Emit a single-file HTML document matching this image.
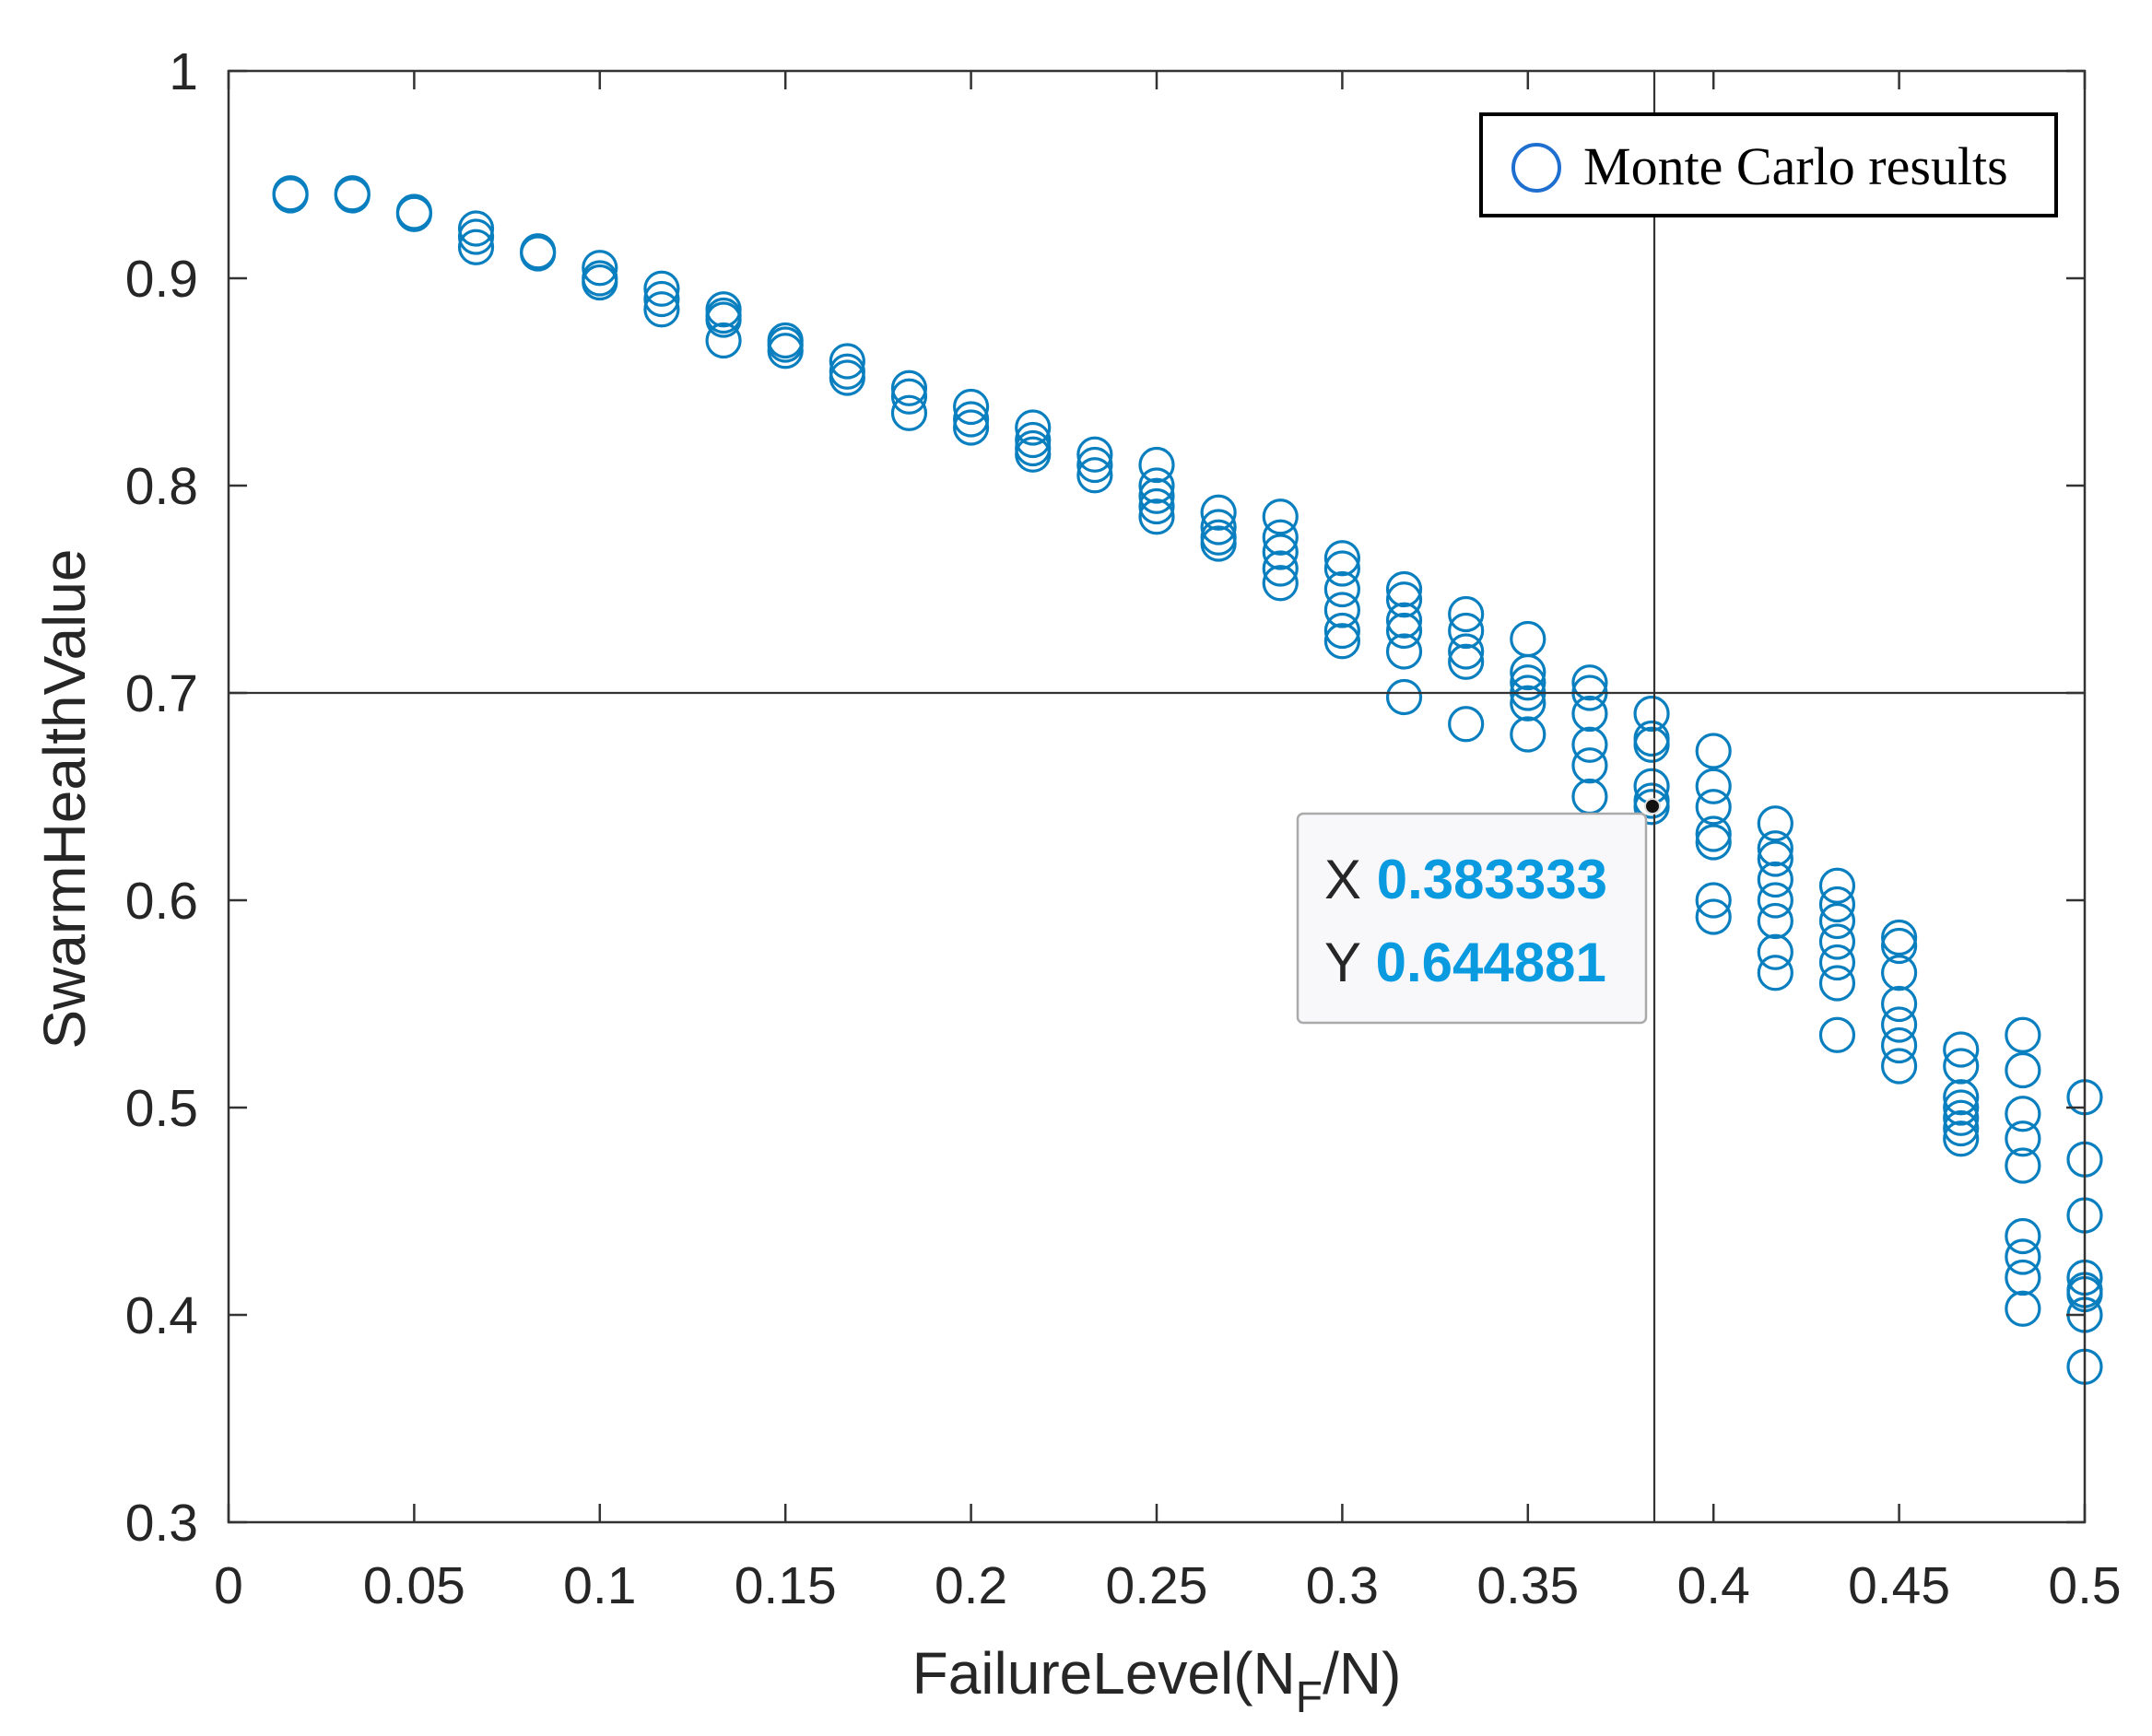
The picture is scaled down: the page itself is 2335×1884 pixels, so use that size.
<!DOCTYPE html>
<html><head><meta charset="utf-8"><style>
html,body{margin:0;padding:0;background:#fff;}
svg{display:block;}
text{font-family:"Liberation Sans",Arial,sans-serif;fill:#262626;}
</style></head><body>
<svg id="s" width="2335" height="1884" viewBox="0 0 2335 1884" xmlns="http://www.w3.org/2000/svg">
<rect width="2335" height="1884" fill="#fff"/>
<g id="pts" fill="none" stroke="#0a7fbf" stroke-width="3.2"></g>
<g stroke="#333" stroke-width="2.5" fill="none">
<rect x="248" y="77" width="2014" height="1575"/>
</g>
<g id="ticks" stroke="#333" stroke-width="2.5"></g>
<line x1="248" y1="752" x2="2262" y2="752" stroke="#333" stroke-width="2.2"/>
<line x1="1795" y1="77" x2="1795" y2="1652" stroke="#333" stroke-width="2.2"/>
<g id="lbl" font-size="57"></g>
<text transform="translate(92,867) rotate(-90)" text-anchor="middle" font-size="64">SwarmHealthValue</text>
<text x="1255" y="1838" text-anchor="middle" font-size="64">FailureLevel(N<tspan font-size="48" dy="20">F</tspan><tspan dy="-20">/N)</tspan></text>
<rect x="1607" y="124" width="624" height="110" fill="#fff" stroke="#000" stroke-width="4"/>
<circle cx="1667" cy="182" r="25" fill="none" stroke="#1f6fd1" stroke-width="4"/>
<text x="1718" y="200" font-size="58" style="font-family:'Liberation Serif',serif;fill:#000">Monte Carlo results</text>
<rect x="1408" y="883" width="378" height="227" rx="6" fill="#f8f8fb" stroke="#aaa" stroke-width="2.5"/>
<text x="1437" y="975" font-size="60" fill="#444">X <tspan font-weight="bold" style="fill:#0a9ae0">0.383333</tspan></text>
<text x="1437" y="1065" font-size="60" fill="#444">Y <tspan font-weight="bold" style="fill:#0a9ae0">0.644881</tspan></text>
<circle cx="1793" cy="875" r="8" fill="#111" stroke="#ddd" stroke-width="2"/>
</svg>
<script>
const NS="http://www.w3.org/2000/svg";
const X=v=>248+v*4028, Y=v=>77+(1-v)*2250;
const data=[[0.94,0.941],[0.94,0.941],[0.932,0.931],[0.92,0.915,0.924],[0.913,0.912],[0.9,0.905,0.898],[0.895,0.89,0.885],[0.885,0.88,0.87,0.882],[0.87,0.865,0.868],[0.86,0.855,0.852],[0.847,0.843,0.835],[0.838,0.832,0.828],[0.828,0.822,0.818,0.815],[0.815,0.81,0.805],[0.81,0.8,0.795,0.79,0.785],[0.787,0.78,0.775,0.772],[0.785,0.775,0.768,0.76,0.753],[0.765,0.76,0.75,0.74,0.73,0.725],[0.75,0.745,0.735,0.73,0.72,0.698],[0.738,0.73,0.72,0.715,0.685],[0.726,0.71,0.705,0.7,0.695,0.68],[0.705,0.7,0.69,0.675,0.665,0.65],[0.69,0.678,0.675,0.655,0.645,0.648],[0.672,0.655,0.645,0.632,0.628,0.6,0.592],[0.637,0.625,0.62,0.61,0.6,0.59,0.575,0.565],[0.607,0.598,0.59,0.58,0.57,0.56,0.535],[0.582,0.578,0.565,0.55,0.54,0.53,0.52],[0.528,0.52,0.505,0.5,0.495,0.49,0.485],[0.535,0.518,0.497,0.485,0.472,0.438,0.428,0.418,0.403],[0.505,0.475,0.448,0.418,0.412,0.41,0.4,0.375]];
const g=document.getElementById("pts");
data.forEach((col,i)=>{const x=X((i+1)/60);col.forEach(v=>{const c=document.createElementNS(NS,"circle");c.setAttribute("cx",x);c.setAttribute("cy",Y(v));c.setAttribute("r",18);g.appendChild(c);});});
const t=document.getElementById("ticks"),l=document.getElementById("lbl");
function ln(a,b,c,d){const e=document.createElementNS(NS,"line");e.setAttribute("x1",a);e.setAttribute("y1",b);e.setAttribute("x2",c);e.setAttribute("y2",d);t.appendChild(e);}
function tx(x,y,s,anc){const e=document.createElementNS(NS,"text");e.setAttribute("x",x);e.setAttribute("y",y);e.setAttribute("text-anchor",anc);e.textContent=s;l.appendChild(e);}
for(let i=0;i<=10;i++){const v=i*0.05,x=X(v);ln(x,1652,x,1632);ln(x,77,x,97);tx(x,1740,i==0?"0":(Math.round(v*100)/100).toString(),"middle");}
for(let i=3;i<=10;i++){const v=i/10,y=Y(v);ln(248,y,268,y);ln(2262,y,2242,y);tx(215,y+20,i==10?"1":v.toFixed(1),"end");}
</script>
</body></html>
